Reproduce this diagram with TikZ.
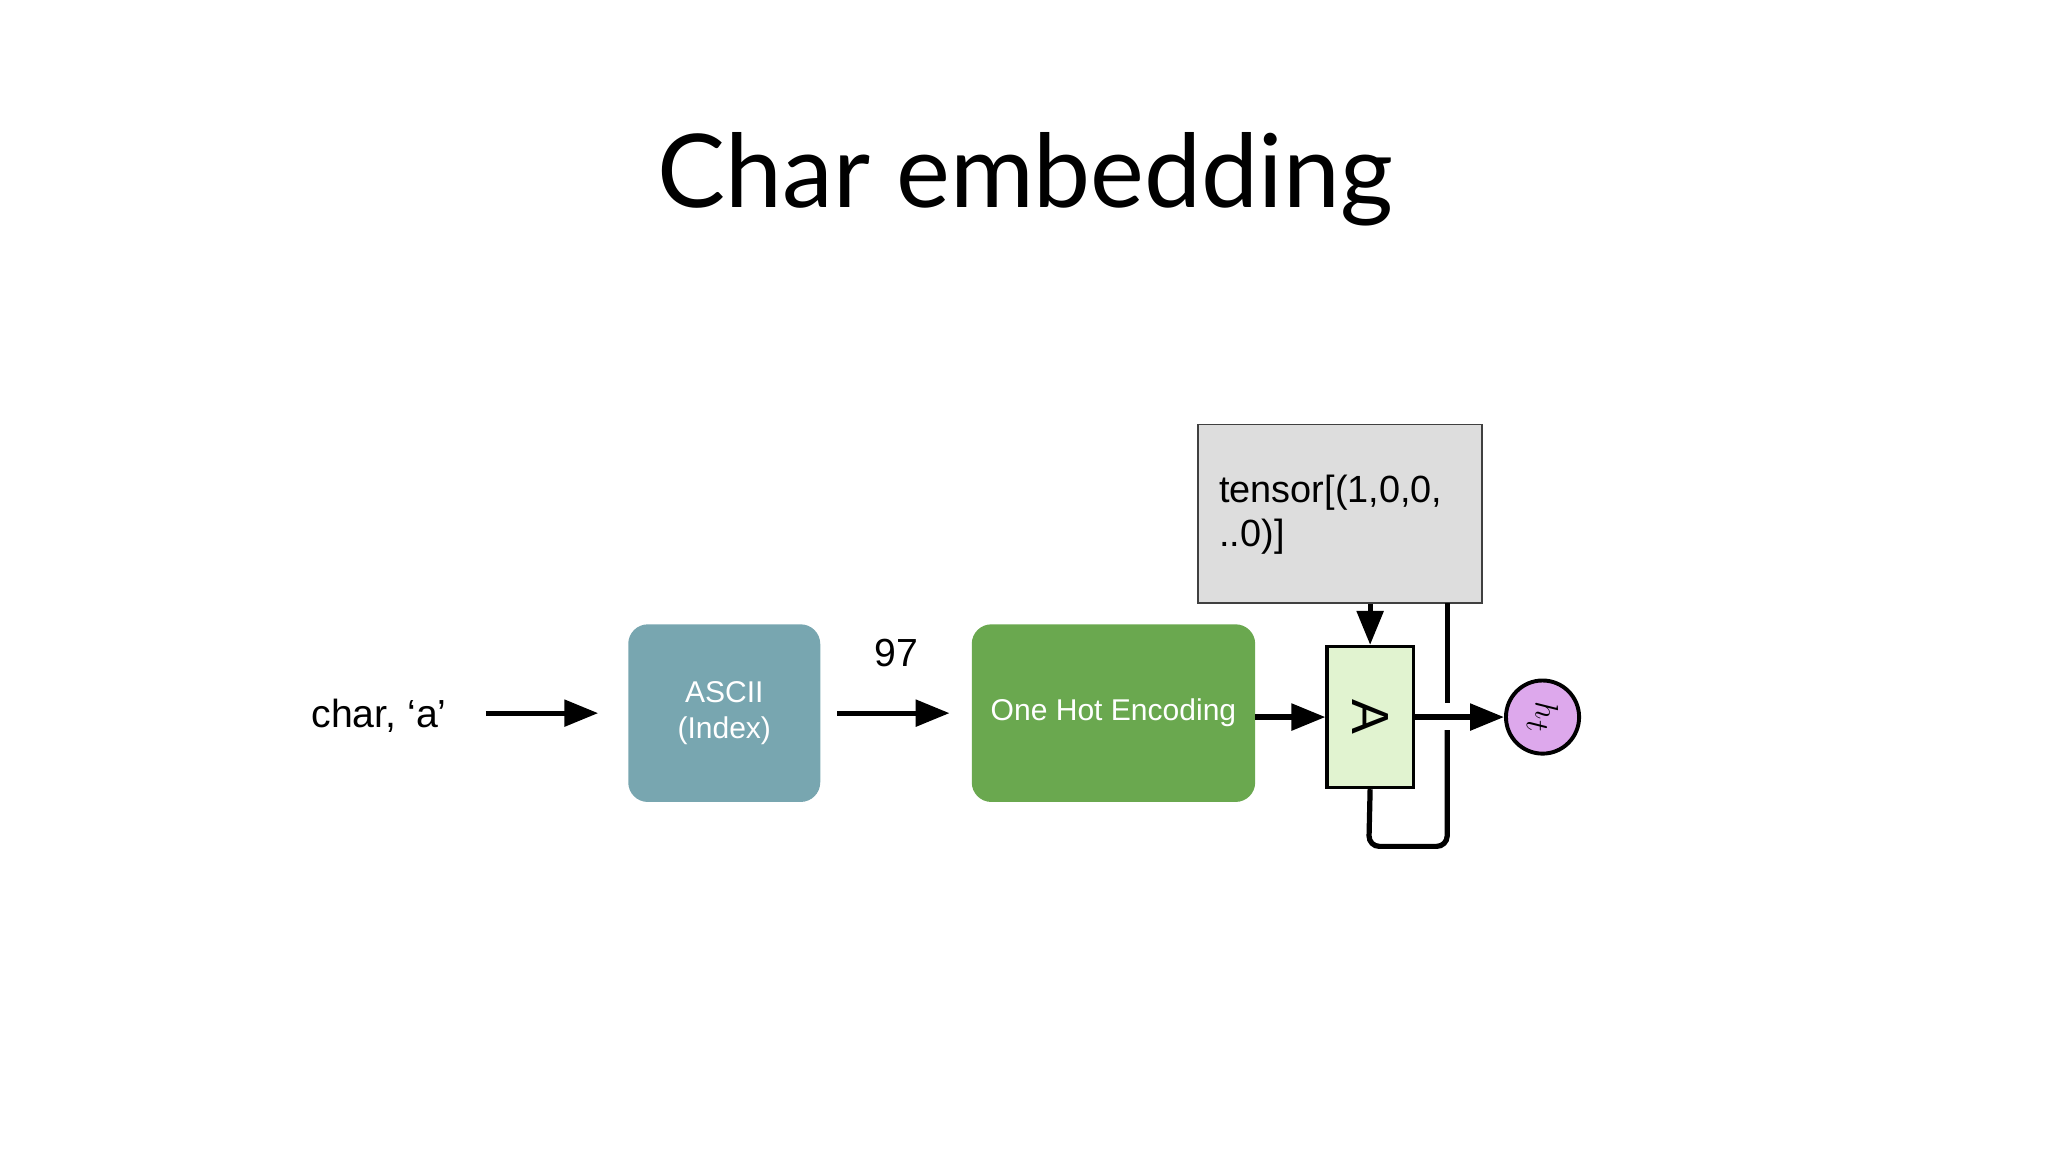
\documentclass[tikz,border=0pt]{standalone}
\usepackage{fontspec}
\setmainfont{Liberation Sans}
\newfontfamily\titlefont{Lato}
\usetikzlibrary{arrows.meta}
\definecolor{asciic}{HTML}{78A6B0}
\definecolor{onehot}{HTML}{6AA84F}
\definecolor{cellc}{HTML}{E1F3D0}
\definecolor{tensc}{HTML}{DDDDDD}
\definecolor{hc}{HTML}{DDA8EC}
\begin{document}
\begin{tikzpicture}[x=1pt,y=-1pt,
  arr/.style={line width=4pt,-{Triangle[length=26pt,width=20pt]}},
  ln/.style={line width=4pt},
  blk/.style={rounded corners=15pt,text=white,font=\fontsize{23}{28}\selectfont,align=center,inner sep=0pt},
  lab/.style={font=\fontsize{30}{34}\selectfont}]
\useasboundingbox (0,0) rectangle (1568,882);
\node[font=\titlefont\fontsize{78}{90}\selectfont] (title) at (785,137) {Char embedding};
\node[lab,anchor=west] (ch) at (235,548) {char, ‘a’};
\coordinate (a1s) at (372,546);
\node[blk,fill=asciic,minimum width=147pt,minimum height=136pt] (ascii) at (554.5,546) {ASCII\\(Index)};
\node[lab] (n97) at (686,500) {97};
\coordinate (a2s) at (641,546);
\node[blk,fill=onehot,minimum width=217pt,minimum height=136pt] (oh) at (852.5,546) {One Hot Encoding};
\node[draw=black!75,line width=1.5pt,fill=tensc,minimum width=218pt,minimum height=137pt] (tens) at (1026,393.5) {};
\node[lab,anchor=north west,align=left,font=\fontsize{29}{34}\selectfont] (tt) at (930,360) {tensor[(1,0,0,\\..0)]};
\node[draw=black,line width=2.5pt,fill=cellc,minimum width=66pt,minimum height=108pt,inner sep=0pt] (A) at (1049,549) {\rotatebox{-90}{\fontsize{40}{40}\selectfont A}};
\node[circle,draw=black,line width=3pt,fill=hc,minimum size=56pt,inner sep=0pt] (h) at (1181,549) {\rotatebox{-90}{\fontsize{36}{36}\selectfont $h_t$}};
\draw[arr] (a1s) -- (458,546);
\draw[arr] (a2s) -- (727,546);
\draw[arr] (oh.east|-A) -- (A.west);
\draw[arr] (tens.south-|A) -- (A.north);
\draw[arr] (A.east) -- (h.west);
\coordinate (r1) at (1108,462);
\coordinate (r2) at (1108,538);
\coordinate (r3) at (1108,559);
\draw[ln] (r1) -- (r2);
\draw[ln,rounded corners=8pt] (r3) -- (1108,648) -- (1048,648) -- (A.south);
\end{tikzpicture}
\end{document}
